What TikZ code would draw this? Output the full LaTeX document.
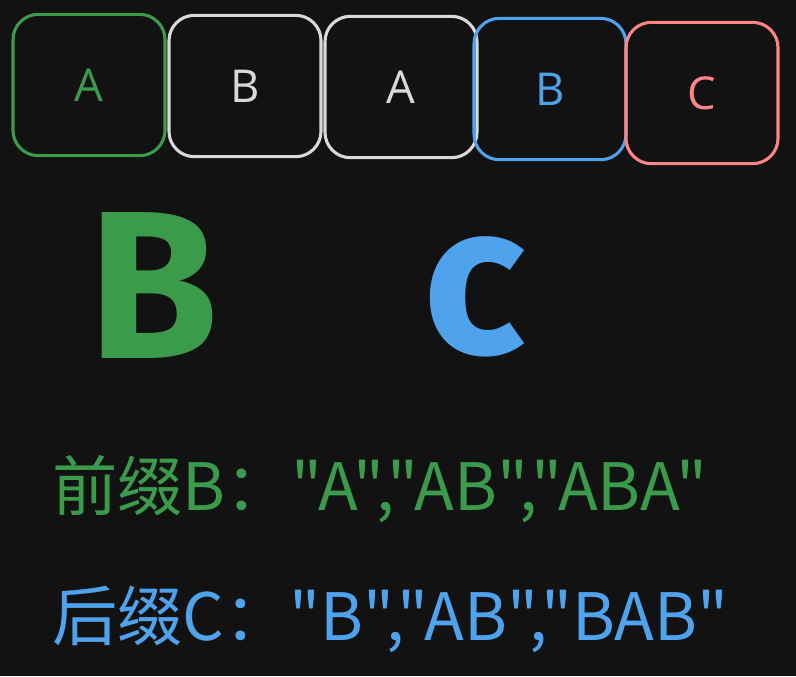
\documentclass[tikz,border=0pt]{standalone}
\usepackage{fontspec}
\setmainfont{Open Sans}
\newfontfamily\cjk{Noto Sans CJK SC}
\newfontfamily\bigfont{Fira Sans}[UprightFont=* Bold]
\definecolor{bgcol}{HTML}{121212}
\definecolor{grn}{HTML}{3A9B4A}
\definecolor{blu}{HTML}{4FA3EC}
\definecolor{rd}{HTML}{FF8484}
\definecolor{wht}{HTML}{D9D9D9}
\tikzset{
  cell/.style={draw=#1, text=#1, line width=2.3pt, rounded corners=19pt,
    minimum width=114pt, minimum height=106pt, inner sep=0pt,
    font=\fontsize{34}{34}\selectfont},
  line/.style={text=#1, anchor=base west, inner sep=0pt,
    font=\cjk\fontsize{49}{49}\selectfont}
}
\begin{document}
\begin{tikzpicture}[x=0.75pt,y=-0.75pt]
	\fill[bgcol] (0,0) rectangle (796,676);
	\useasboundingbox (0,0) rectangle (796,676);

	\node[cell=grn] (c1) at (89,85) {A};
	\node[cell=wht] (c2) at (245,86) {B};
	\node[cell=wht] (c3) at (401,87) {A};
	\node[cell=blu] (c4) at (550,89) {B};
	\node[cell=rd] (c5) at (702,93) {C};

	\node[text=grn, font=\bigfont\fontsize{158}{158}\selectfont, inner sep=0pt] (bigB) at (153,285) {B};
	\node[text=blu, font=\bigfont\fontsize{160}{160}\selectfont, inner sep=0pt] (bigC) at (475,297) {c};

	\node[line=grn] (pre) at (52,510) {前缀B："A","AB","ABA"};
	\node[line=blu] (suf) at (52,640) {后缀C："B","AB","BAB"};
\end{tikzpicture}
\end{document}
